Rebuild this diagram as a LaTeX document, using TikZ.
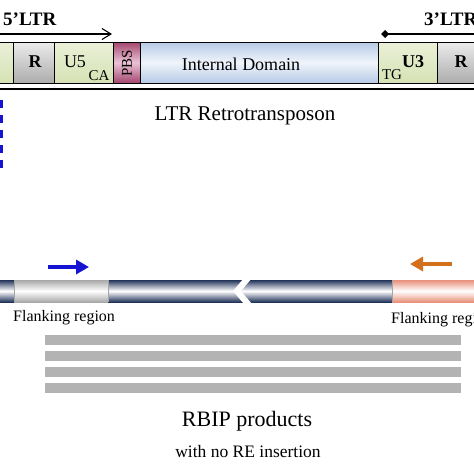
\documentclass[tikz,border=0pt]{standalone}
\usepackage{fontspec}
\setmainfont{Liberation Serif}
\usetikzlibrary{arrows.meta}

\definecolor{ltrgreen}{HTML}{D6E2B4}
\definecolor{ltrgreenlt}{HTML}{EAF0D8}
\definecolor{pbsred}{HTML}{A3466F}
\definecolor{pbspink}{HTML}{EBC3D5}
\definecolor{intblue}{HTML}{B6CAE6}
\definecolor{intbluelt}{HTML}{F0F4FB}
\definecolor{strandblue}{HTML}{22335A}
\definecolor{flankgray}{HTML}{A8A8A8}
\definecolor{flanksalmon}{HTML}{E8907A}
\definecolor{primblue}{HTML}{1414D2}
\definecolor{primorange}{HTML}{D2701E}
\definecolor{prodgray}{HTML}{B3B3B3}

\begin{document}
\begin{tikzpicture}[x=1pt,y=-1pt,
    seg/.style={draw=black,line width=0.9pt},
    green/.style={seg,top color=ltrgreenlt,bottom color=ltrgreen},
    grey/.style={seg,top color=gray!15,bottom color=gray!65},
    tube/.style={top color=#1,bottom color=#1,middle color=white},
    prod/.style={fill=prodgray,draw=none},
    txt/.style={inner sep=0pt,font=\fontsize{#1}{#1}\selectfont},
    btxt/.style={inner sep=0pt,font=\bfseries\fontsize{#1}{#1}\selectfont}]

    \useasboundingbox (0,0) rectangle (474,474);
    \clip (0,0) rectangle (474,474);

    % LTR retrotransposon
    \path[green] (-5,42) rectangle (13,83);
    \path[grey] (13,42) rectangle (54,83);
    \path[green] (54,42) rectangle (113,83);
    \path[seg,top color=pbsred,bottom color=pbsred,middle color=pbspink] (113,42) rectangle (140,83);
    \path[seg,top color=intblue,bottom color=intblue,middle color=intbluelt] (140,42) rectangle (378,83);
    \path[green] (378,42) rectangle (437,83);
    \path[grey] (437,42) rectangle (480,83);
    \draw[line width=1.2pt] (-5,89) -- (480,89);

    \node[btxt=18] (r5) at (35,62) {R};
    \node[txt=18] (u5) at (75,62) {U5};
    \node[txt=15] (ca) at (99,76) {CA};
    \node[txt=15,rotate=90] (pbs) at (127,63) {PBS};
    \node[txt=18] (intdom) at (241,64) {Internal Domain};
    \node[txt=15] (tg) at (392,75) {TG};
    \node[btxt=18] (u3) at (413,62) {U3};
    \node[btxt=18] (r3) at (461,62) {R};

    \node[btxt=19,anchor=base west] (ltr5) at (3,25) {5’LTR};
    \node[btxt=19,anchor=base west] (ltr3) at (424,25) {3’LTR};
    \coordinate (a5s) at (-5,34);
    \coordinate (a5e) at (112,34);
    \coordinate (a3s) at (381,34);
    \coordinate (a3e) at (480,34);
    \draw[line width=1.1pt,-{Straight Barb[length=9pt,width=11pt]}] (a5s) -- (a5e);
    \draw[line width=1.1pt,{Diamond[length=8pt,width=8pt]}-] (a3s) -- (a3e);

    \node[txt=21] (ltrname) at (245,116) {LTR Retrotransposon};

    \coordinate (dtop) at (1.5,100);
    \coordinate (dbot) at (1.5,168);
    \draw[primblue,line width=3.5pt,dash pattern=on 8pt off 7pt] (dtop) -- (dbot);

    % flanking DNA without insertion
    \shade[tube=strandblue] (-5,280) rectangle (14,302);
    \shade[tube=flankgray] (14,280) rectangle (108,302);
    \shade[tube=strandblue] (108,280) rectangle (392,302);
    \shade[tube=flanksalmon] (392,280) rectangle (480,302);
    \draw[gray!70,line width=0.5pt] (14,280) -- (14,302) (108,280) -- (108,302) (392,280) -- (392,302);
    \fill[white] (244,278) -- (233,291) -- (244,304) -- (252,304) -- (241,291) -- (252,278) -- cycle;

    \coordinate (fwds) at (48,267);
    \coordinate (fwde) at (89,267);
    \coordinate (revs) at (452,264);
    \coordinate (reve) at (410,264);
    \draw[primblue,line width=3.5pt,-{Triangle[length=13pt,width=14pt]}] (fwds) -- (fwde);
    \draw[primorange,line width=3.5pt,-{Triangle[length=13pt,width=14pt]}] (revs) -- (reve);

    \node[txt=16,anchor=base west] (flankl) at (13,321) {Flanking region};
    \node[txt=16,anchor=base west] (flankr) at (391,323) {Flanking region};

    % products
    \foreach \y in {340,356,372,388}
        \fill[prod] (45,\y-5) rectangle (461,\y+5);

    \node[txt=22] (rbip) at (247,421) {RBIP products};
    \node[txt=17.5] (noins) at (248,452) {with no RE insertion};

\end{tikzpicture}
\end{document}
